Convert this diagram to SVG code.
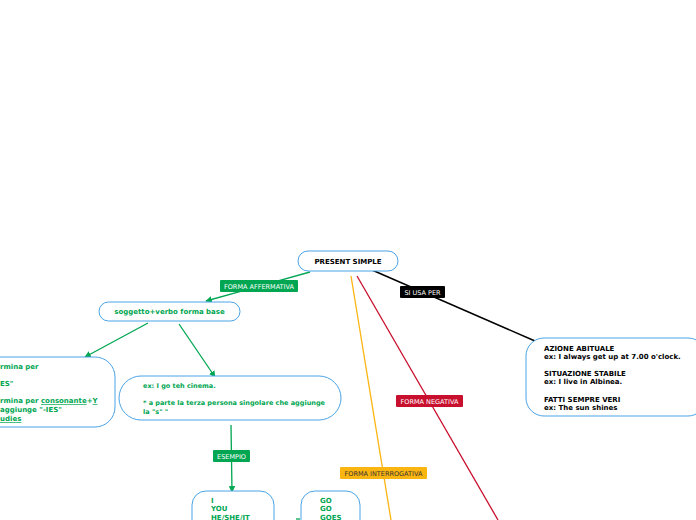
<svg xmlns="http://www.w3.org/2000/svg" width="696" height="520" viewBox="0 0 696 520">
<style>
.n{fill:#fff;stroke:#4aa3e6;stroke-width:1}
.t{font-family:"DejaVu Sans",Verdana,sans-serif;font-weight:bold;font-size:7px}
.g{fill:#00a651}
.k{fill:#000}
.lb{font-family:"DejaVu Sans",sans-serif;font-size:6.5px;fill:#fff}
.cg{stroke:#00a651;stroke-width:1.3}
</style>
<defs>
<marker id="ag" viewBox="0 0 10 10" refX="9" refY="5" markerWidth="5" markerHeight="5" orient="auto"><path d="M0,0L10,5L0,10z" fill="#00a651"/></marker>
</defs>
<g id="connectors">
<line x1="310" y1="272" x2="206" y2="301" class="cg" marker-end="url(#ag)"/>
<line x1="372" y1="270" x2="535" y2="341" stroke="#000" stroke-width="1.5"/>
<line x1="351" y1="276" x2="391" y2="520" stroke="#fbb511" stroke-width="1.3"/>
<line x1="357" y1="276" x2="498" y2="520" stroke="#c8102e" stroke-width="1.3"/>
<line x1="148" y1="323" x2="85" y2="357" class="cg" marker-end="url(#ag)"/>
<line x1="179" y1="324" x2="215" y2="377" class="cg" marker-end="url(#ag)"/>
<line x1="231" y1="425" x2="232" y2="492" class="cg" marker-end="url(#ag)"/>
<line x1="296" y1="519" x2="300" y2="519" class="cg"/>
<rect x="220" y="280" width="78" height="12" rx="1" fill="#00a651"/>
<text x="259" y="288.5" class="lb" text-anchor="middle">FORMA AFFERMATIVA</text>
<rect x="400" y="286" width="45" height="12" rx="1" fill="#000"/>
<text x="422.5" y="294.5" class="lb" text-anchor="middle">SI USA PER</text>
<rect x="396" y="395" width="67" height="12" rx="1" fill="#c8102e"/>
<text x="429.5" y="403.5" class="lb" text-anchor="middle">FORMA NEGATIVA</text>
<rect x="340" y="467" width="87" height="12" rx="1" fill="#fbb511"/>
<text x="383.5" y="475.5" class="lb" text-anchor="middle" style="fill:#333">FORMA INTERROGATIVA</text>
<rect x="213" y="450" width="37" height="12" rx="1" fill="#00a651"/>
<text x="231.5" y="458.5" class="lb" text-anchor="middle">ESEMPIO</text>
</g>
<g id="present"><rect class="n" x="298" y="251" width="100" height="20" rx="10"/><text class="t k" x="348" y="264" text-anchor="middle">PRESENT SIMPLE</text></g>
<g id="soggetto"><rect class="n" x="99" y="302" width="141" height="19" rx="9.5"/><text class="t g" x="169.5" y="314" text-anchor="middle">soggetto+verbo forma base</text></g>
<g id="regole"><rect class="n" x="-40" y="357" width="155" height="70" rx="20"/>
<text class="t g" x="0" y="369">rmina per</text>
<text class="t g" x="0" y="386">ES"</text>
<text class="t g" x="0" y="403">rmina per <tspan text-decoration="underline">consonante</tspan>+<tspan text-decoration="underline">Y</tspan></text>
<text class="t g" x="0" y="412">aggiunge "-IES"</text>
<text class="t g" x="0" y="421"><tspan text-decoration="underline">udies</tspan></text></g>
<g id="esempio"><rect class="n" x="119" y="376" width="222" height="44" rx="22"/>
<text class="t g" x="143" y="388" style="font-size:6.5px">ex: I go teh cinema.</text>
<text class="t g" x="143" y="405" style="font-size:6.5px">* a parte la terza persona singolare che aggiunge</text>
<text class="t g" x="143" y="414" style="font-size:6.5px">la "s" "</text></g>
<g id="pronomi"><rect class="n" x="192" y="491" width="82" height="45" rx="14"/>
<text class="t g" x="211" y="503">I</text><text class="t g" x="211" y="511">YOU</text><text class="t g" x="211" y="520">HE/SHE/IT</text></g>
<g id="verbi"><rect class="n" x="301" y="491" width="59" height="45" rx="14"/>
<text class="t g" x="320" y="503">GO</text><text class="t g" x="320" y="511">GO</text><text class="t g" x="320" y="520">GOES</text></g>
<g id="usi"><rect class="n" x="526" y="338" width="180" height="78" rx="18"/>
<text class="t k" x="544" y="351">AZIONE ABITUALE</text>
<text class="t k" x="544" y="359">ex:  I always get up at 7.00 o'clock.</text>
<text class="t k" x="544" y="376">SITUAZIONE STABILE</text>
<text class="t k" x="544" y="384">ex: I live in Albinea.</text>
<text class="t k" x="544" y="402">FATTI SEMPRE VERI</text>
<text class="t k" x="544" y="410">ex: The sun shines</text></g>
</svg>
